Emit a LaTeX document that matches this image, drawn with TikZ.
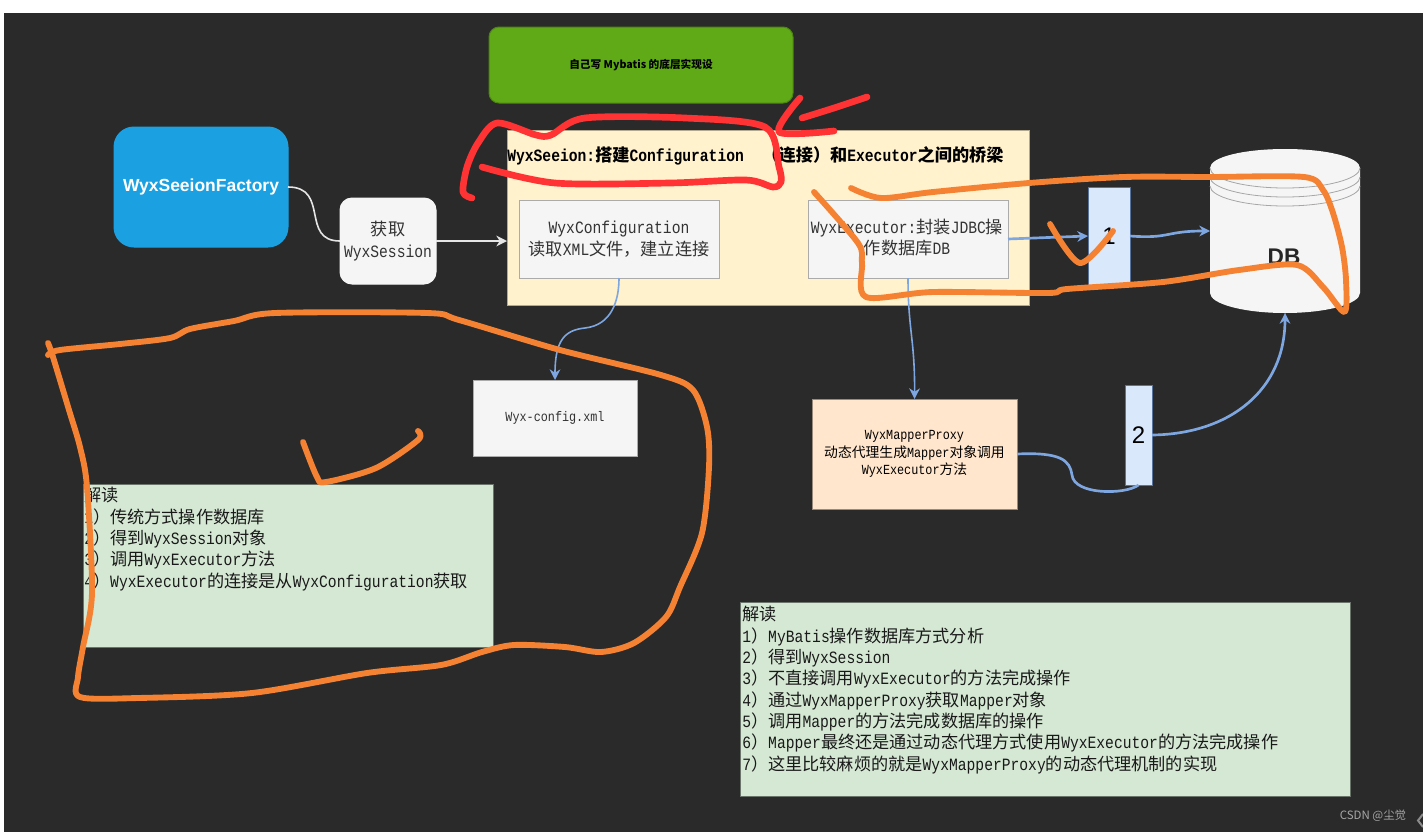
\documentclass[tikz,border=0pt]{standalone}
\usepackage{fontspec}
\setmainfont[FakeStretch=0.85,Scale=1.176]{Liberation Mono}
\setsansfont{Liberation Sans}
\newfontfamily\cjk[Scale=1.17]{Noto Sans CJK SC}
\newfontfamily\cjksf{Noto Sans CJK SC}
\newcommand{\zh}[1]{{\cjk #1}}
\usetikzlibrary{arrows.meta}
\definecolor{bggray}{HTML}{2A2A2A}
\definecolor{wire}{HTML}{7EA6E0}
\definecolor{penorange}{HTML}{F58233}
\definecolor{penred}{HTML}{FF3333}
\definecolor{leafgreen}{HTML}{60A917}
\definecolor{skyblue}{HTML}{1BA1E2}
\definecolor{paleyellow}{HTML}{FFF2CC}
\definecolor{paleorange}{HTML}{FFE6CC}
\definecolor{palegreen}{HTML}{D5E8D4}
\definecolor{paleblue}{HTML}{DAE8FC}
\tikzset{
  boxsize/.style 2 args={minimum width=#1*0.75pt, minimum height=#2*0.75pt},
  plainbox/.style={draw=#1, line width=0.75pt, inner sep=0pt, outer sep=0pt, align=center},
  graybox/.style={plainbox=black!33, fill=black!4, text=black!80, font=\fontsize{11}{16}\selectfont},
  smallbox/.style={font=\fontsize{8.85}{13}\selectfont},
  bluebox/.style={plainbox=wire!70!black, fill=paleblue, font=\sffamily\fontsize{18}{20}\selectfont},
  notebox/.style={plainbox=palegreen!50!black, fill=palegreen},
  notetext/.style={anchor=north west, inner sep=0pt, align=left, text=black!90, font=\fontsize{11}{16}\selectfont},
  whitewire/.style={draw=white!90!black, line width=1.2pt},
  bluewire/.style={draw=wire, line width=2pt},
  thinwire/.style={draw=wire, line width=1.2pt},
  tip/.style={-{Stealth[length=8pt,width=8pt]}},
  pen/.style={line width=4.4pt, line cap=round, line join=round, smooth, tension=0.5},
  redpen/.style={pen, draw=penred, line width=5pt},
}
\begin{document}
\begin{tikzpicture}[x=0.75pt,y=-0.75pt]
  \useasboundingbox (0,0) rectangle (1423,832);
  \fill[white] (0,0) rectangle (1423,832);
  \fill[bggray] (4,13) rectangle (1423,832);

  % boxes
  \node[plainbox=leafgreen!80!black, fill=leafgreen, rounded corners=7.5pt, boxsize={304}{76}, font=\cjksf\bfseries\fontsize{8}{10}\selectfont] (title) at (641,65) {自己写 Mybatis 的底层实现设};
  \node[plainbox=skyblue, fill=skyblue, rounded corners=15pt, boxsize={174}{120}, text=white, font=\sffamily\bfseries\fontsize{13.1}{15}\selectfont] (factory) at (201,187) {\raisebox{-1pt}{WyxSeeionFactory}};
  \node[graybox, draw=black!4, rounded corners=9pt, boxsize={96}{86}] (session) at (388,241) {\zh{获取}\\WyxSession};
  \node[plainbox=paleyellow!70!black, fill=paleyellow, boxsize={522}{175}] (bridge) at (768,217.5) {};
  \node[anchor=west, inner sep=0pt, font=\bfseries\fontsize{11}{13}\selectfont] (bridgetext) at (507,156) {WyxSeeion:{\bfseries\zh{搭建}}Configuration~~{\bfseries\zh{（连接）和}}Executor{\bfseries\zh{之间的桥梁}}};
  \node[graybox, boxsize={200}{78}] (config) at (619,239) {WyxConfiguration\\\zh{读取}XML\zh{文件，建立连接}};
  \node[graybox, boxsize={200}{78}] (executor) at (908,239) {};
  \node[graybox, draw=none, fill=none, anchor=north] (executortext) at (907,219) {WyxExecutor:\zh{封装}JDBC\zh{操}\\\zh{作数据库}DB};
  \node[graybox, smallbox, boxsize={164}{76}] (xml) at (555,418) {Wyx-config.xml};
  \node[plainbox=paleorange!60!black, fill=paleorange, boxsize={205}{110}, smallbox] (proxy) at (914.5,454) {WyxMapperProxy\\\zh{动态代理生成}Mapper\zh{对象调用}\\WyxExecutor\zh{方法}};
  \node[bluebox, boxsize={42}{98}] (step1) at (1109,236) {1};
  \node[bluebox, boxsize={27}{100}] (step2) at (1138.5,435) {2};

  % database
  \fill[black!4] (1210,168) .. controls (1210,157) and (1244,149) .. (1285,149) .. controls (1326,149) and (1360,157) .. (1360,168) -- (1360,293) .. controls (1360,304) and (1326,313) .. (1285,313) .. controls (1244,313) and (1210,304) .. (1210,293) -- cycle;
  \foreach \y in {168,177,186}
    \draw[black!35, line width=0.6pt] (1210,\y) .. controls (1210,\y+11) and (1244,\y+20) .. (1285,\y+20) .. controls (1326,\y+20) and (1360,\y+11) .. (1360,\y);
  \node[boxsize={150}{164}, inner sep=0pt, outer sep=0pt] (db) at (1285,231) {};
  \node[inner sep=0pt, font=\sffamily\bfseries\fontsize{17}{20}\selectfont, text=black!85] (dbtext) at (1284,257) {DB};

  % notes
  \node[notebox, boxsize={410}{163}] (noteleft) at (288,565.5) {};
  \node[notetext] (noteleftext) at (84,487) {\zh{解读}\\1\zh{）传统方式操作数据库}\\2\zh{）得到}WyxSession\zh{对象}\\3\zh{）调用}WyxExecutor\zh{方法}\\4\zh{）}WyxExecutor\zh{的连接是从}WyxConfiguration\zh{获取}};
  \node[notebox, boxsize={610}{194}] (noteright) at (1045,699) {};
  \node[notetext] (noterighttext) at (742,606) {\zh{解读}\\1\zh{）}MyBatis\zh{操作数据库方式分析}\\2\zh{）得到}WyxSession\\3\zh{）不直接调用}WyxExecutor\zh{的方法完成操作}\\4\zh{）通过}WyxMapperProxy\zh{获取}Mapper\zh{对象}\\5\zh{）调用}Mapper\zh{的方法完成数据库的操作}\\6\zh{）}Mapper\zh{最终还是通过动态代理方式使用}WyxExecutor\zh{的方法完成操作}\\7\zh{）这里比较麻烦的就是}WyxMapperProxy\zh{的动态代理机制的实现}};

  % connectors
  \draw[whitewire] (factory.east) .. controls (330,187) and (300,241) .. (session.west);
  \draw[whitewire, tip] (session.east) -- (bridge.west |- session.east);
  \draw[thinwire, tip] (config.south) .. controls (619,300) and (612,325) .. (585,328) .. controls (565,330) and (555,340) .. (xml.north);
  \draw[thinwire, tip] (executor.south) .. controls (908,330) and (915,340) .. (proxy.north);
  \draw[bluewire, tip] (executor.east) -- (step1.west);
  \draw[bluewire, tip] (step1.east) .. controls (1170,239) and (1165,231) .. (db.west);
  \draw[bluewire] (proxy.east) .. controls (1060,452) and (1070,460) .. (1072,475) .. controls (1074,495) and (1125,495) .. (step2.south);
  \draw[bluewire, tip] (step2.east) .. controls (1230,434) and (1285,390) .. (db.south);

  % hand marks
  \draw[pen, draw=penorange] plot coordinates {(851,188) (881,198) (933,192) (1029,183) (1124,177) (1209,177) (1304,177) (1323,190) (1333,213) (1342,247) (1346,280) (1344.5,312) (1323,287) (1297,265) (1239,270) (1163,282) (1067,289) (1048,293) (933,292) (866,297) (862,263) (858,243) (814,192)};
  \draw[pen, draw=penorange] plot coordinates {(1050,224) (1080,263) (1113,231)};
  \draw[pen, draw=penorange] plot coordinates {(48,343) (53,357) (69,410) (80,447) (87,487) (92,593) (83,647) (78,677) (80,697) (138,698) (252,693) (367,673) (441,665) (482,652) (514,645) (565,647) (601,652) (634,643) (666,617) (680,587) (702,533) (709,467) (707,427) (693,390) (661,375) (560,350) (459,320) (427,313) (275,313) (234,321) (190,329) (170,338) (120,344) (60,350) (48,355)};
  \draw[pen, draw=penorange] plot coordinates {(303,442) (317,477) (326,482) (376,468) (418,440) (418,431)};
  \draw[redpen] plot coordinates {(472,198) (463,192) (467,167) (478,143) (497,123) (536,135) (551,135) (585,118) (685,118) (765,127) (779,167) (781,182) (773,187) (746,180) (670,183) (555,183) (482,167)};
  \draw[redpen] plot coordinates {(800,98) (779,132) (834,131)};
  \draw[redpen] plot coordinates {(802,118) (834,108) (867,97)};

  \node[inner sep=0pt, text=black!35, font=\cjksf\fontsize{8.6}{10}\selectfont] (watermark) at (1373,816) {CSDN @尘觉};
  \draw[black!45, line width=1.5pt] (1423,814) -- (1418,820.5) -- (1423,827);
\end{tikzpicture}
\end{document}
